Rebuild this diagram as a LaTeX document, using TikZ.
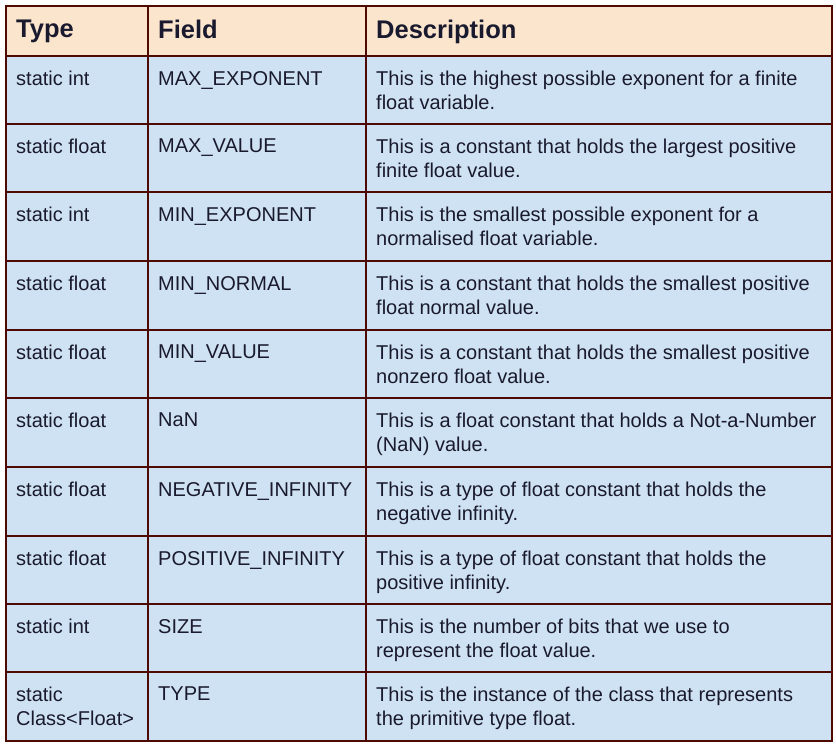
\documentclass[tikz,border=0pt]{standalone}
\usepackage{fontspec}
\setmainfont{Liberation Sans}
\definecolor{hdr}{HTML}{FCE5CD}
\definecolor{bod}{HTML}{CFE2F3}
\definecolor{brd}{HTML}{4F0A00}
\definecolor{txt}{HTML}{1A1A2E}
\begin{document}
\begin{tikzpicture}[x=1pt,y=-1pt,
  cell/.style={anchor=north west,inner sep=0pt,align=left,text=txt,font=\fontsize{20}{23.5}\selectfont},
  head/.style={anchor=north west,inner sep=0pt,text=txt,font=\fontsize{25.5}{28}\selectfont\bfseries}]
\useasboundingbox (0,0) rectangle (836,745);
\fill[hdr] (6,6) rectangle (832,56);
\fill[bod] (6,56) rectangle (832,741);
\node[head] (h1) at (16,20) {Type};
\node[head] (h2) at (158,20) {Field};
\node[head] (h3) at (376,20) {Description};
\foreach \y/\t/\f/\d [count=\i] in {
 56/static int/MAX\_EXPONENT/{This is the highest possible exponent for a finite\\float variable.},
 124/static float/MAX\_VALUE/{This is a constant that holds the largest positive\\finite float value.},
 192/static int/MIN\_EXPONENT/{This is the smallest possible exponent for a\\normalised float variable.},
 261/static float/MIN\_NORMAL/{This is a constant that holds the smallest positive\\float normal value.},
 330/static float/MIN\_VALUE/{This is a constant that holds the smallest positive\\nonzero float value.},
 398/static float/NaN/{This is a float constant that holds a Not-a-Number\\(NaN) value.},
 467/static float/NEGATIVE\_INFINITY/{This is a type of float constant that holds the\\negative infinity.},
 536/static float/POSITIVE\_INFINITY/{This is a type of float constant that holds the\\positive infinity.},
 604/static int/SIZE/{This is the number of bits that we use to\\represent the float value.},
 672/{static\\Class<Float>}/TYPE/{This is the instance of the class that represents\\the primitive type float.}}
{
 \node[cell] (t\i) at (16,\y+15) {\t};
 \node[cell] (f\i) at (158,\y+15) {\f};
 \node[cell] (d\i) at (376,\y+15) {\d};
 \draw[brd,line width=2.5pt] (6,\y) -- (832,\y);
}
\draw[brd,line width=2.5pt] (6,6) rectangle (832,741);
\draw[brd,line width=2.5pt] (148,6) -- (148,741) (366,6) -- (366,741);
\end{tikzpicture}
\end{document}
